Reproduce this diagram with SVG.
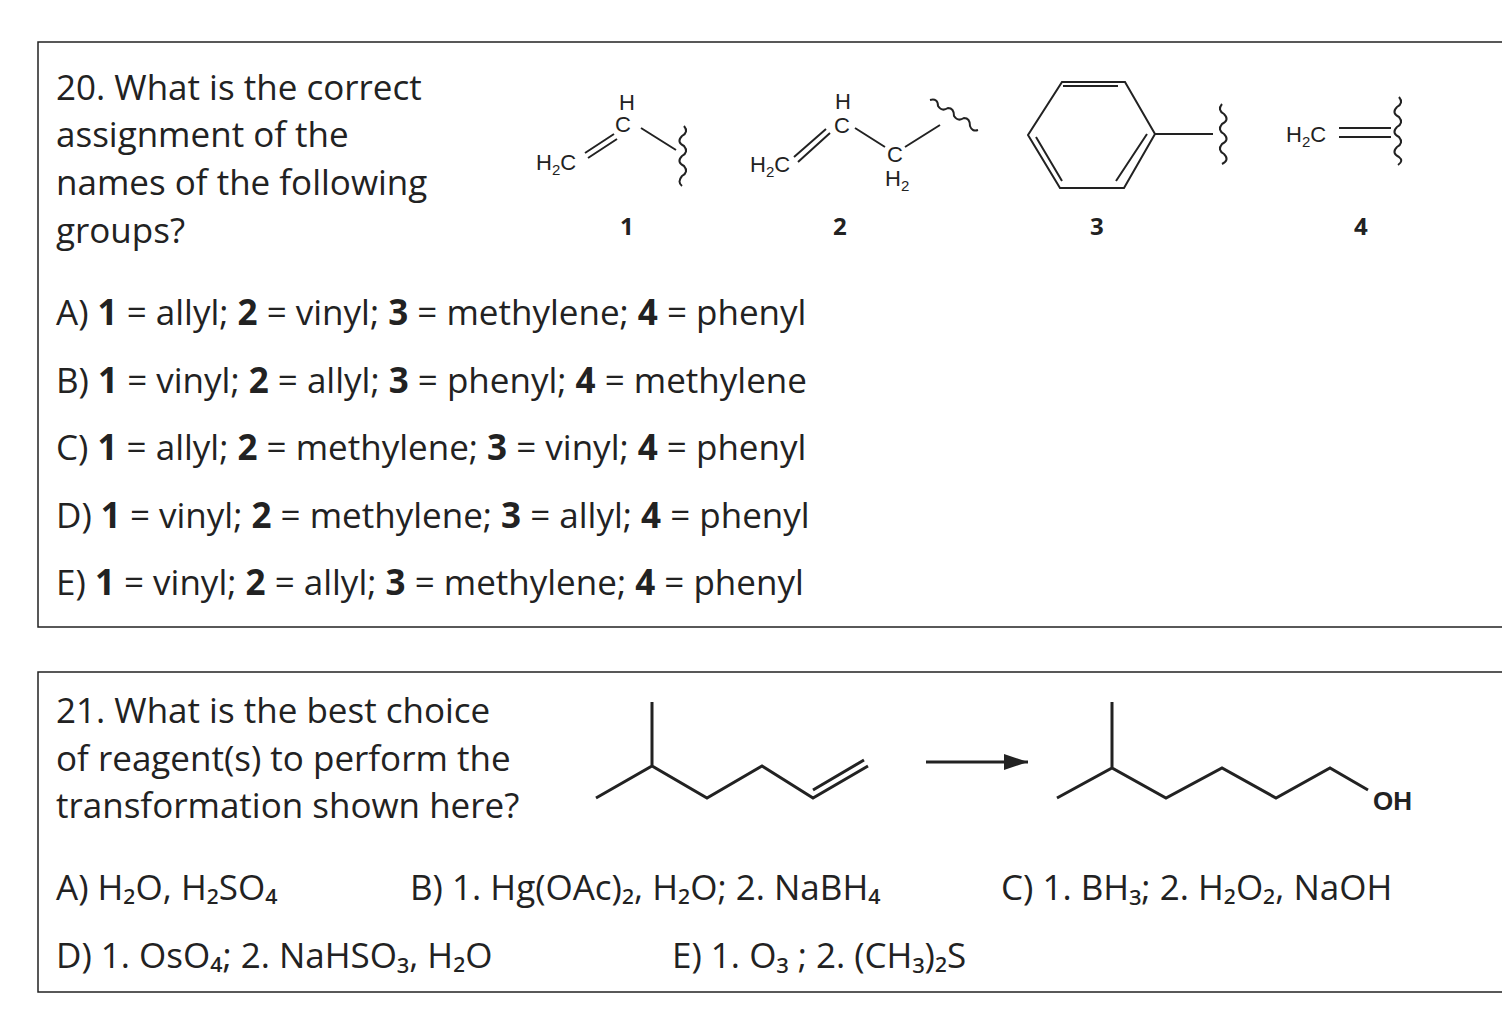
<svg xmlns="http://www.w3.org/2000/svg" width="1502" height="1012" viewBox="0 0 1502 1012">
<style>
.t{font-family:"Open Sans","Liberation Sans",sans-serif;font-size:35px;fill:#222}
.c{font-family:"Liberation Sans",Arial,sans-serif;font-size:22px;fill:#222}
.s{font-size:15px}
.b{font-weight:bold}
.l{stroke:#222;stroke-width:2;fill:none}
.L{stroke:#222;stroke-width:3;fill:none}
.box{fill:#fff;stroke:#222;stroke-width:1.5}
</style>
<defs><marker id="ah" markerWidth="26" markerHeight="20" refX="24" refY="10" orient="auto" markerUnits="userSpaceOnUse"><path d="M0,2L24,10L0,18z" fill="#222"/></marker></defs>
<rect width="1502" height="1012" fill="#fff"/>
<rect class="box" x="38" y="42" width="1480" height="585"/>
<rect class="box" x="38" y="672" width="1480" height="320"/>
<g id="q20">
<text class="t" x="56" y="100">20.  What is the correct</text>
<text class="t" x="56" y="147">assignment of the</text>
<text class="t" x="56" y="195">names of the following</text>
<text class="t" x="56" y="243">groups?</text>
<text class="t b" x="620" y="235" style="font-size:24px">1</text>
<text class="t b" x="833" y="235" style="font-size:24px">2</text>
<text class="t b" x="1090" y="235" style="font-size:24px">3</text>
<text class="t b" x="1354" y="235" style="font-size:24px">4</text>
</g>
<g id="g1">
<text class="c" x="536" y="170">H<tspan class="s" dy="5">2</tspan><tspan dy="-5">C</tspan></text>
<text class="c" x="615" y="132">C</text><text class="c" x="619" y="110">H</text>
<path class="l" d="M585,153L614,134M588,158L617,139M641,128L676,150"/>
<path class="l" d="M684,126q5,6 -2,10q-6,6 2,10q5,6 -2,10q-6,6 2,10q5,6 -2,10q-5,6 0,10"/>
</g>
<g id="g2">
<text class="c" x="750" y="172">H<tspan class="s" dy="5">2</tspan><tspan dy="-5">C</tspan></text>
<text class="c" x="834" y="133">C</text><text class="c" x="835" y="109">H</text>
<text class="c" x="887" y="162">C</text><text class="c" x="885" y="186">H<tspan class="s" dy="5">2</tspan></text>
<path class="l" d="M798,162L830,133M794,157L826,129M855,128L885,147M905,147L940,125"/>
<path class="l" d="M930,100q8,-2 8,6q4,6 10,2q6,0 6,8q4,6 10,2q6,0 6,8q2,6 8,4"/>
</g>
<g id="g3">
<path class="l" d="M1062,82L1125,82L1155,134L1124,188L1060,188L1028,135Z"/>
<path class="l" d="M1063,86L1118,86M1036,137L1062,181M1116,181L1147,134M1155,134L1213,134"/>
<path class="l" d="M1222,104q-5,6 2,10q6,6 -2,10q-5,6 2,10q6,6 -2,10q-5,6 2,10q6,6 -2,10"/>
</g>
<g id="g4">
<text class="c" x="1286" y="142">H<tspan class="s" dy="5">2</tspan><tspan dy="-5">C</tspan></text>
<path class="l" d="M1339,128L1391,128M1339,137L1391,137"/>
<path class="l" d="M1399,97q5,6 -2,10q-6,6 2,10q5,6 -2,10q-6,6 2,10q5,6 -2,10q-6,6 2,10q5,4 -1,8"/>
</g>
<g id="opts20">
<text class="t" x="56" y="325">A)  <tspan class="b">1</tspan> = allyl; <tspan class="b">2</tspan> = vinyl; <tspan class="b">3</tspan> = methylene; <tspan class="b">4</tspan> = phenyl</text>
<text class="t" x="56" y="393">B)  <tspan class="b">1</tspan> = vinyl; <tspan class="b">2</tspan> = allyl; <tspan class="b">3</tspan> = phenyl; <tspan class="b">4</tspan> = methylene</text>
<text class="t" x="56" y="460">C)  <tspan class="b">1</tspan> = allyl; <tspan class="b">2</tspan> = methylene; <tspan class="b">3</tspan> = vinyl; <tspan class="b">4</tspan> = phenyl</text>
<text class="t" x="56" y="528">D) <tspan class="b">1</tspan> = vinyl; <tspan class="b">2</tspan> = methylene; <tspan class="b">3</tspan> = allyl; <tspan class="b">4</tspan> = phenyl</text>
<text class="t" x="56" y="595">E) <tspan class="b">1</tspan> = vinyl; <tspan class="b">2</tspan> = allyl; <tspan class="b">3</tspan> = methylene; <tspan class="b">4</tspan> = phenyl</text>
</g>
<g id="q21">
<text class="t" x="56" y="723">21. What is the best choice</text>
<text class="t" x="56" y="771">of reagent(s) to perform the</text>
<text class="t" x="56" y="818">transformation shown here?</text>
</g>
<g id="reactant">
<path class="L" d="M652,702L652,766M596,798L652,766L707,798L762,766L813,798L868,766M813,790L864,760"/>
</g>
<g id="product">
<path class="L" d="M1112,702L1112,768M1057,798L1112,768L1166,798L1222,768L1276,798L1330,768L1368,790"/>
<text class="c b" x="1373" y="810" style="font-size:26px">OH</text>
</g>
<g id="connectors"><path class="L" d="M926,762L1028,762" marker-end="url(#ah)"/></g>
<g id="opts21">
<text class="t" x="56" y="900">A) H₂O, H₂SO₄</text>
<text class="t" x="410" y="900">B) 1. Hg(OAc)₂, H₂O;  2. NaBH₄</text>
<text class="t" x="1001" y="900">C) 1. BH₃; 2. H₂O₂, NaOH</text>
<text class="t" x="56" y="968">D) 1. OsO₄; 2. NaHSO₃, H₂O</text>
<text class="t" x="672" y="968">E) 1. O₃ ; 2. (CH₃)₂S</text>
</g>
</svg>
